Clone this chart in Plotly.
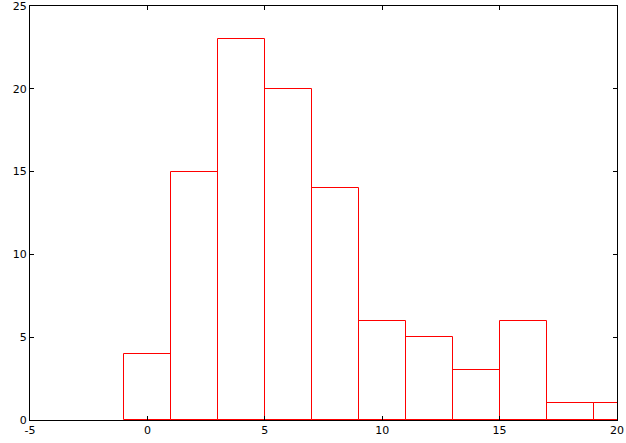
import plotly.graph_objects as go

bin_centers = [0, 2, 4, 6, 8, 10, 12, 14, 16, 18, 20]
counts = [4, 15, 23, 20, 14, 6, 5, 3, 6, 1, 1]
bin_width = 2

x_ticks = [-5, 0, 5, 10, 15, 20]
y_ticks = [0, 5, 10, 15, 20, 25]

fig = go.Figure()
fig.add_trace(go.Bar(
    x=bin_centers, y=counts, width=[bin_width] * len(bin_centers),
    marker=dict(color="rgba(255,255,255,0)", line=dict(color="#ff0000", width=1)),
    showlegend=False, hoverinfo="skip",
))

axis_common = dict(
    showgrid=False, zeroline=False, showline=True, linecolor="black", linewidth=1,
    mirror="ticks", ticks="inside", ticklen=4, tickcolor="black", tickwidth=1,
    tickfont=dict(family="DejaVu Sans", size=11, color="black"),
    ticklabeloverflow="allow",
)
fig.update_xaxes(range=[-5, 20], tickvals=x_ticks, ticktext=[str(v) for v in x_ticks], **axis_common)
fig.update_yaxes(range=[0, 25], tickvals=y_ticks, ticktext=[str(v) for v in y_ticks], **axis_common)

fig.update_layout(
    width=626, height=443,
    margin=dict(l=30, r=9, t=0, b=23, pad=0),
    plot_bgcolor="white", paper_bgcolor="white",
    bargap=0,
)
fig.write_html(
    "out.html",
    config={"displayModeBar": False},
    post_script="document.body.style.margin='0';document.body.style.overflow='hidden';",
)
